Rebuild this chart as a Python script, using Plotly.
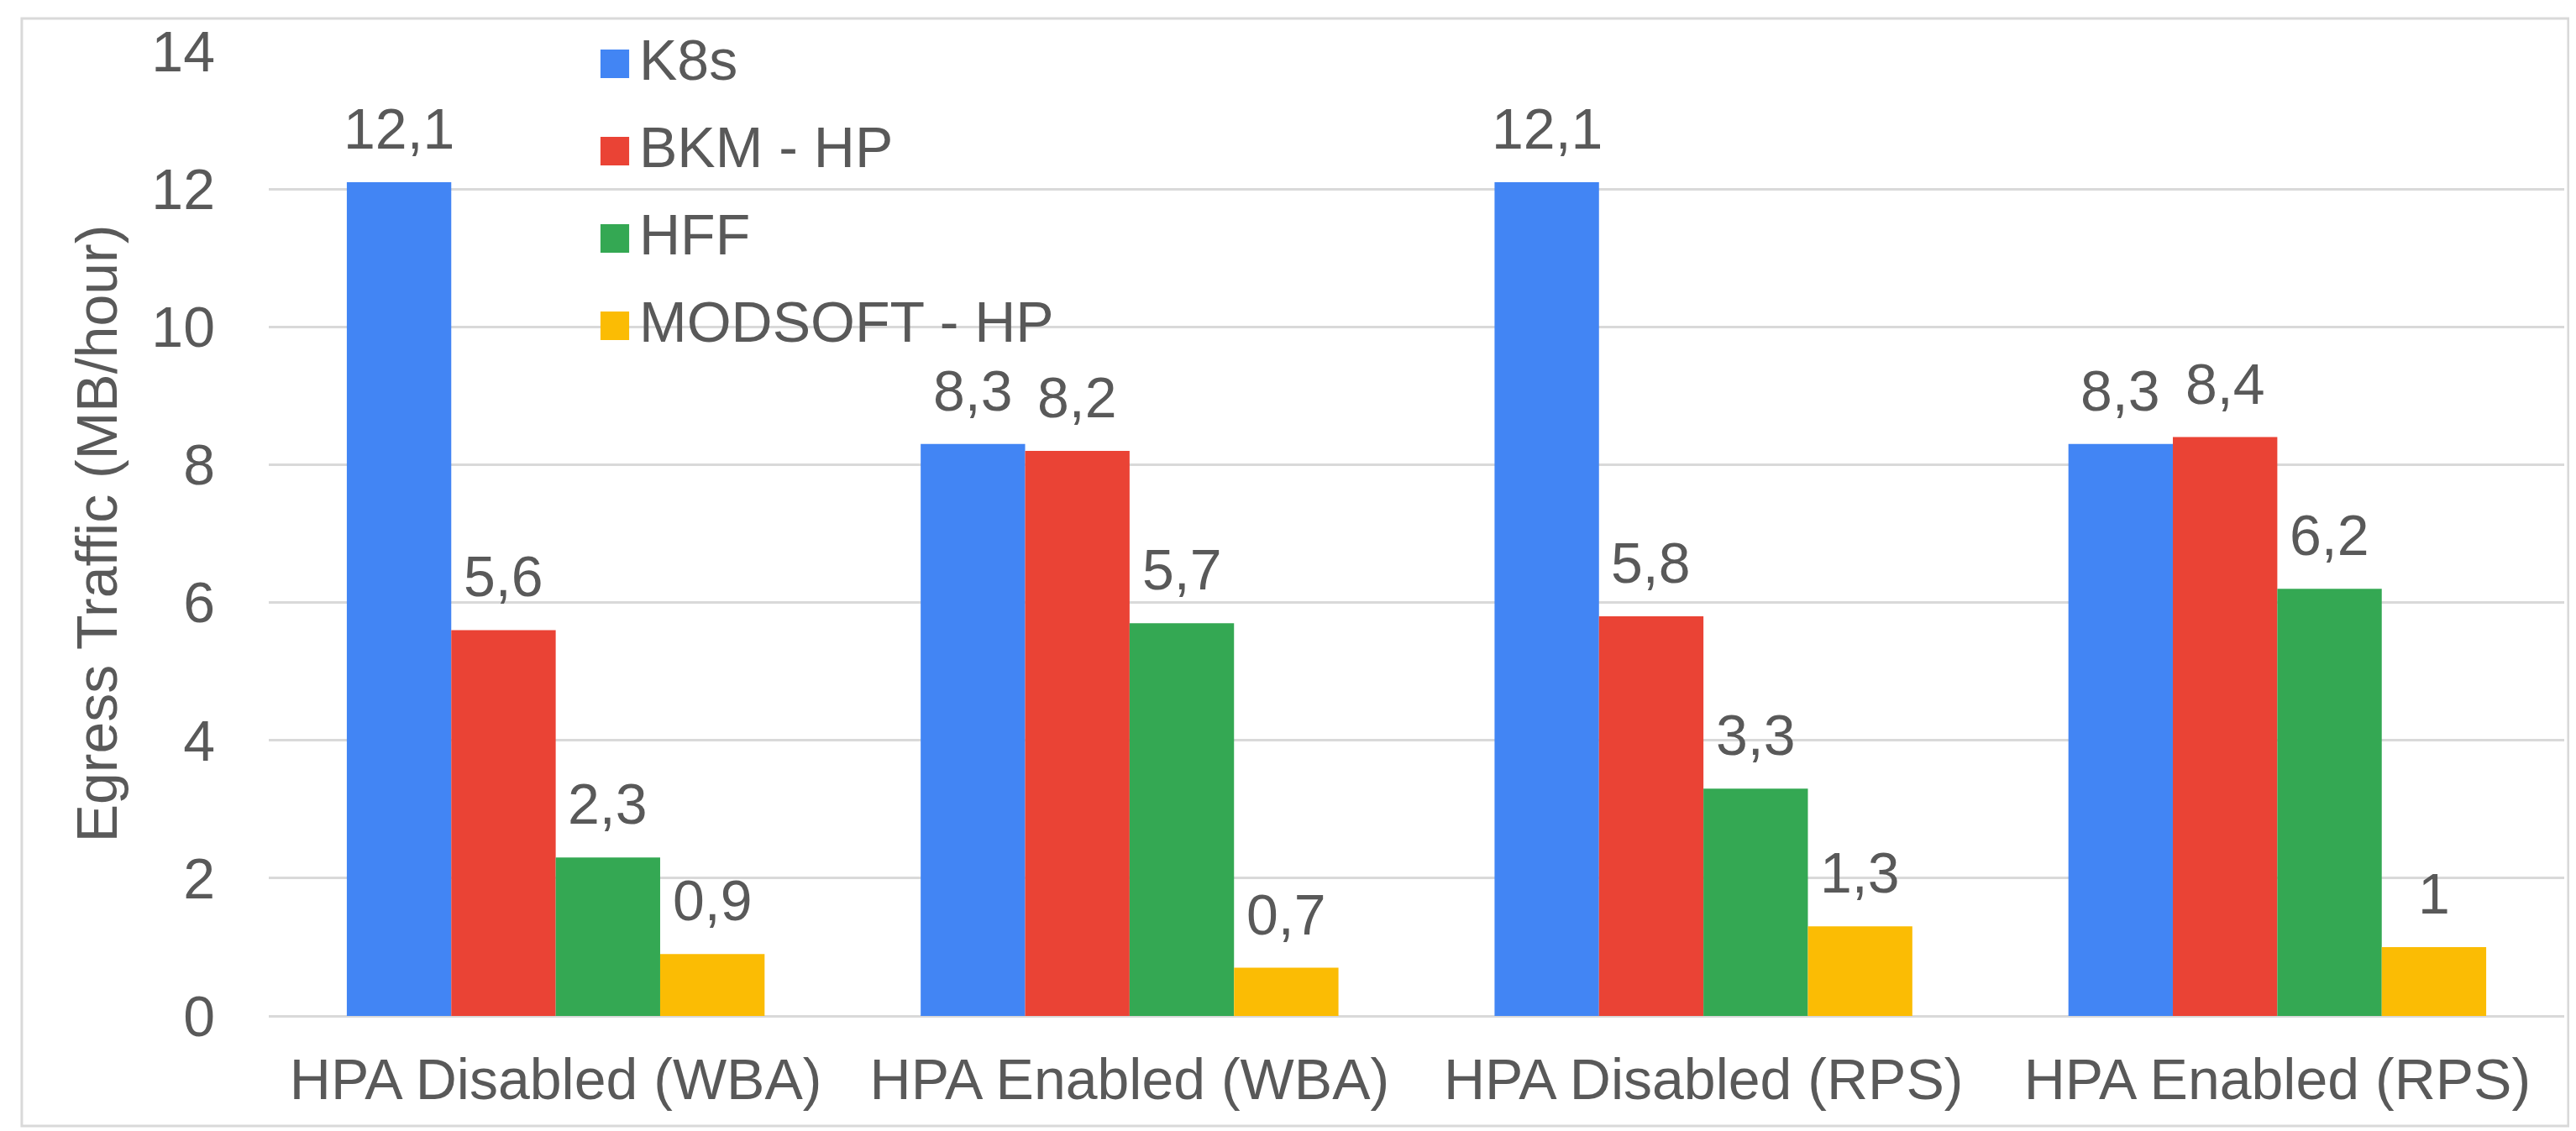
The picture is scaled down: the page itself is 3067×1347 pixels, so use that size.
import plotly.graph_objects as go

categories = ['HPA Disabled (WBA)', 'HPA Enabled (WBA)', 'HPA Disabled (RPS)', 'HPA Enabled (RPS)']
series_names = ['K8s', 'BKM - HP', 'HFF', 'MODSOFT - HP']
k8s = [12.1, 8.3, 12.1, 8.3]
bkm_hp = [5.6, 8.2, 5.8, 8.4]
hff = [2.3, 5.7, 3.3, 6.2]
modsoft_hp = [0.9, 0.7, 1.3, 1.0]
colors = ['#4285F4', '#EA4335', '#34A853', '#FBBC04']

W, H = 3067, 1347
FONT = 'Liberation Sans, Arial, sans-serif'
GREY = '#595959'
BARGAP = 0.272

fig = go.Figure()
all_values = [k8s, bkm_hp, hff, modsoft_hp]
x_idx = list(range(len(categories)))
for name, vals, col in zip(series_names, all_values, colors):
    fig.add_trace(go.Bar(x=x_idx, y=vals, name=name, marker=dict(color=col, line=dict(width=0)),
                         showlegend=False))

# value labels above each bar (comma decimal separator)
n = len(series_names)
bar_w = (1 - BARGAP) / n
annotations = []
for j, vals in enumerate(all_values):
    for i, v in enumerate(vals):
        annotations.append(dict(x=i + (j - (n - 1) / 2) * bar_w, y=v, xref='x', yref='y',
                                text=f'{v:g}'.replace('.', ','), showarrow=False,
                                yanchor='bottom', xanchor='center', yshift=24,
                                font=dict(size=68, color=GREY, family=FONT)))

# legend drawn by hand so the swatches can be as large as the reference
shapes = []
for j, (name, col) in enumerate(zip(series_names, colors)):
    yc = 0.9869 - j * 0.0905
    shapes.append(dict(type='rect', xref='paper', yref='paper', x0=0.1445, x1=0.157,
                       y0=yc - 0.0148, y1=yc + 0.0148, fillcolor=col, line=dict(width=0)))
    annotations.append(dict(x=0.1605, y=yc + 0.004, xref='paper', yref='paper', text=name,
                            showarrow=False, xanchor='left', yanchor='middle',
                            font=dict(size=68, color=GREY, family=FONT)))

# outer frame
shapes.append(dict(type='rect', xref='paper', yref='paper', x0=-0.1076, x1=1.0018,
                   y0=-0.114, y1=1.034, line=dict(color='#d9d9d9', width=3), layer='below'))

fig.update_layout(
    width=W, height=H,
    margin=dict(l=312, r=22, t=53, b=145),
    barmode='group', bargap=BARGAP, bargroupgap=0,
    plot_bgcolor='white', paper_bgcolor='white',
    font=dict(family=FONT, size=68, color=GREY),
    annotations=annotations, shapes=shapes,
)
fig.update_xaxes(tickmode='array', tickvals=x_idx, ticktext=categories, range=[-0.5, 3.5],
                 showgrid=False, zeroline=False, showline=False, ticks='',
                 ticklabelstandoff=30, tickfont=dict(size=68, color=GREY))
fig.update_yaxes(range=[0, 14], dtick=2, showgrid=True, gridcolor='#d9d9d9', gridwidth=3,
                 zeroline=True, zerolinecolor='#d9d9d9', zerolinewidth=3, showline=False,
                 ticks='', ticklabelstandoff=63, tickfont=dict(size=68, color=GREY),
                 title=dict(text='Egress Traffic (MB/hour)', standoff=18,
                            font=dict(size=68, color=GREY)))

fig.write_html("out.html")
